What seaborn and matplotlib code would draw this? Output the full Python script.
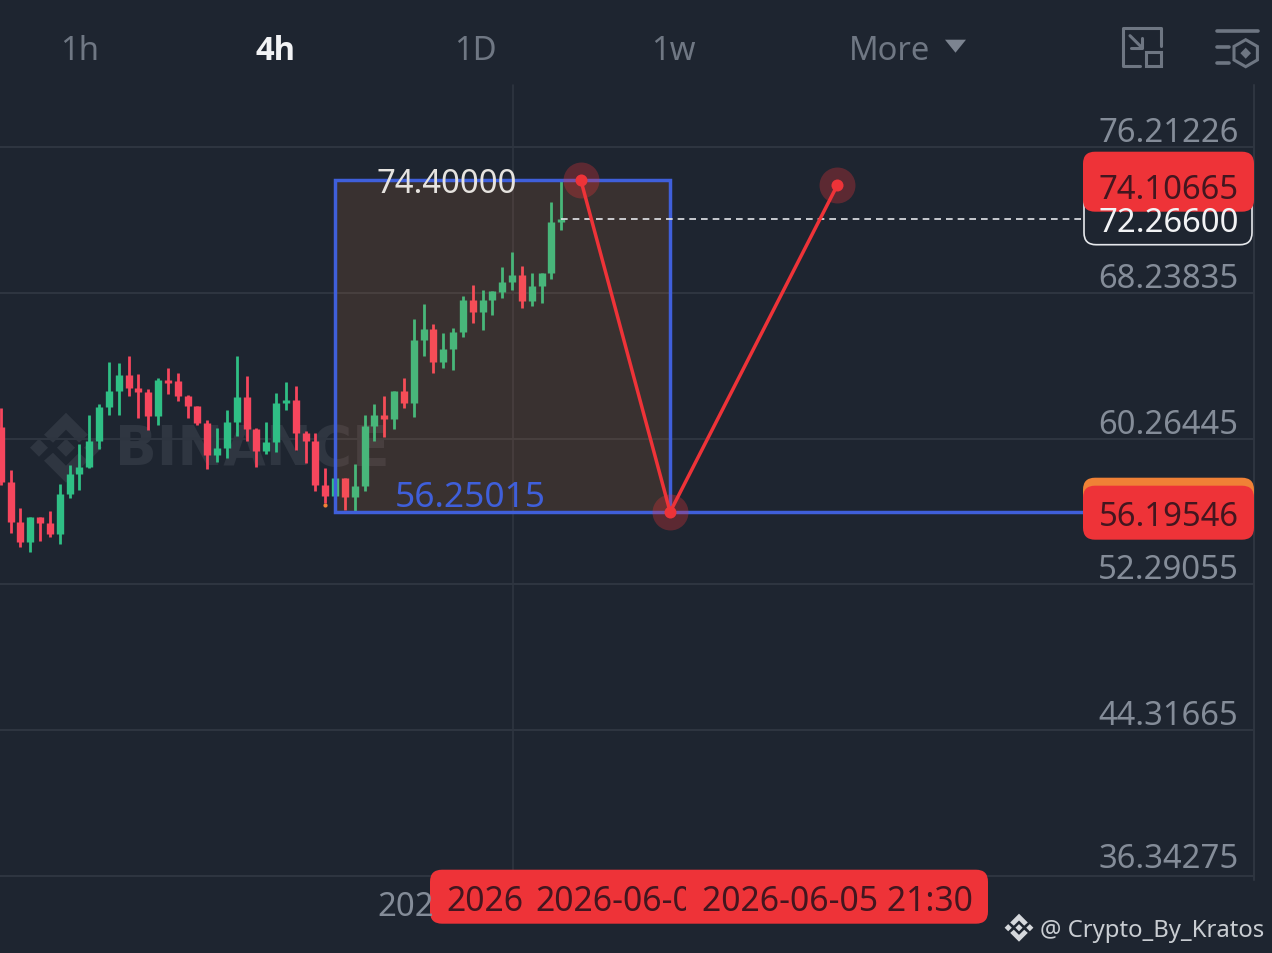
import matplotlib
matplotlib.use("Agg")
import matplotlib.pyplot as plt
from matplotlib.patches import FancyBboxPatch, Polygon, Rectangle
import numpy as np
import pandas as pd
import seaborn as sns

# candles (prices)
opens = [60.88, 57.91, 55.69, 54.63, 55.98, 55.63, 55.03, 57.22, 58.31, 58.69,
         60.15, 62.01, 62.89, 63.72, 63.01, 62.80, 61.50, 63.47, 63.41, 62.59,
         62.05, 61.14, 59.37, 59.77, 61.17, 62.52, 60.81, 59.59, 60.10, 62.19,
         62.36, 60.55, 60.13, 57.73, 57.12, 58.09, 57.09, 57.69, 60.95, 61.56,
         61.32, 62.87, 62.23, 65.66, 66.26, 64.44, 65.15, 66.08, 67.86, 67.17,
         67.83, 68.30, 68.81, 69.21, 67.81, 68.63, 69.30, 72.09]
highs = [61.96, 58.55, 56.45, 55.99, 55.98, 56.32, 57.76, 58.82, 59.97, 61.54,
         62.16, 64.47, 64.38, 64.80, 63.82, 62.96, 63.60, 64.11, 63.85, 62.67,
         62.05, 61.28, 60.83, 61.85, 64.78, 63.67, 60.86, 61.17, 62.78, 63.36,
         63.14, 60.70, 60.59, 58.64, 58.09, 58.09, 58.86, 61.56, 62.14, 62.59,
         62.87, 63.60, 66.81, 67.61, 66.51, 66.04, 66.33, 68.08, 68.66, 68.37,
         68.32, 69.67, 70.45, 69.70, 69.32, 69.32, 73.22, 74.35]
lows = [57.73, 55.08, 54.35, 54.04, 54.68, 54.90, 54.48, 57.03, 57.45, 58.67,
        59.68, 61.57, 61.57, 62.61, 61.39, 60.75, 60.99, 62.70, 62.34, 61.39,
        61.01, 58.58, 59.00, 59.19, 60.41, 60.15, 58.69, 59.40, 59.55, 61.83,
        59.64, 58.91, 57.42, 56.76, 57.12, 56.36, 56.30, 57.42, 60.15, 60.37,
        60.81, 61.92, 61.43, 64.80, 63.87, 64.11, 64.00, 65.84, 66.60, 66.20,
        67.02, 67.97, 68.39, 67.43, 67.52, 67.70, 69.01, 71.67]
closes = [57.91, 55.69, 54.63, 55.98, 55.63, 55.03, 57.22, 58.31, 58.73, 60.15,
          62.01, 62.89, 63.72, 63.01, 62.80, 61.50, 63.47, 63.29, 62.59, 62.05,
          61.14, 59.37, 59.77, 61.17, 62.52, 60.81, 59.59, 60.10, 62.19, 62.36,
          60.55, 60.13, 57.73, 57.12, 58.09, 57.09, 57.69, 60.95, 61.56, 61.34,
          62.87, 62.19, 65.66, 66.26, 64.44, 65.15, 66.08, 67.86, 67.17, 67.83,
          68.32, 68.81, 69.21, 67.81, 68.61, 69.32, 72.09, 72.26]

grid_prices = [76.21226, 68.23835, 60.26445, 52.29055, 44.31665, 36.34275]
tabs = ["1h", "4h", "1D", "1w", "More"]

box_top = 74.40000
box_bottom = 56.25015
last_price = 72.26600
target_price = 74.10665
stop_price = 56.19546

# drawn path, as (candle number, price)
path_x = [59.0, 68.08, 85.07]
path_y = [74.40, 56.25, 74.10665]
box_x = [34.0, 68.08]
liq_x, liq_y = [33], [56.63]

BG = "#1E2530"
GRID = "#2E3540"
GREEN = "#2FBF85"
RED = "#F6465D"
MARK = "#EE3338"
BLUE = "#3F5FDA"
ORANGE = "#F08136"
GREY = "#848C98"
DARK = "#43161F"
FS = 23.6

sns.set_theme(style="dark", rc={"axes.facecolor": BG, "figure.facecolor": BG})
plt.rcParams["font.family"] = ["Noto Sans", "DejaVu Sans"]

df = pd.DataFrame({"n": np.arange(len(opens)), "o": opens, "h": highs, "l": lows, "c": closes})
df["col"] = np.where(df.c >= df.o, "up", "down")


def long_form(frame, a, b):
    return frame.melt(id_vars=["n", "col"], value_vars=[a, b], value_name="price")


fig = plt.figure(figsize=(12.72, 9.54), dpi=100)

# pixel layers for the app chrome: one behind the chart, one in front
back = fig.add_axes([0, 0, 1, 1], zorder=0)
front = fig.add_axes([0, 0, 1, 1], zorder=2)
for a in (back, front):
    a.set_xlim(0, 1272)
    a.set_ylim(953.3, -0.7)
    a.axis("off")

ax = fig.add_axes([0, 0, 1, 1], zorder=1)
ax.patch.set_alpha(0)

# grid
for p in grid_prices:
    ax.axhline(p, xmin=0, xmax=1254 / 1272, color=GRID, lw=1.5, zorder=1)

# candles
palette = {"up": GREEN, "down": RED}
sns.lineplot(data=long_form(df, "l", "h"), x="n", y="price", units="n", hue="col", palette=palette,
             estimator=None, lw=2.0, legend=False, ax=ax, zorder=3, solid_capstyle="butt")
sns.lineplot(data=long_form(df, "o", "c"), x="n", y="price", units="n", hue="col", palette=palette,
             estimator=None, lw=5.3, legend=False, ax=ax, zorder=4, solid_capstyle="butt")
sns.scatterplot(x=liq_x, y=liq_y, color=ORANGE, s=9, linewidth=0, ax=ax, zorder=4)

# position box, tint goes over the candles
ax.add_patch(Rectangle((box_x[0], box_bottom), box_x[1] - box_x[0], box_top - box_bottom,
                       facecolor=ORANGE, alpha=0.133, edgecolor="none", zorder=5))
ax.add_patch(Rectangle((box_x[0], box_bottom), box_x[1] - box_x[0], box_top - box_bottom,
                       fill=False, edgecolor=BLUE, lw=2.5, zorder=6))
ax.plot([box_x[1], 110.2], [box_bottom, box_bottom], color=BLUE, lw=2.5, zorder=6)

# last price line
ax.plot([57, 110.2], [last_price, last_price], color="#E4E6EA", lw=1.2, ls=(0, (4, 3)), zorder=6)

# drawn path
sns.lineplot(x=path_x, y=path_y, color=MARK, lw=2.5, sort=False, estimator=None, ax=ax, zorder=7)
sns.scatterplot(x=path_x, y=path_y, color=MARK, s=670, alpha=0.3, linewidth=0, ax=ax, zorder=7)
sns.scatterplot(x=path_x, y=path_y, color=MARK, s=75, linewidth=0, ax=ax, zorder=8)

ax.set_xlim(-0.08, 129.3)
ax.set_ylim(32.135, 84.305)
ax.set_xlabel("")
ax.set_ylabel("")
ax.set_xticks([])
ax.set_yticks([])
ax.grid(False)
sns.despine(ax=ax, left=True, bottom=True)

# axis lines
back.plot([513, 513], [85, 872], color=GRID, lw=1.2)
back.plot([1254, 1254], [85, 880], color=GRID, lw=1.5)


def binance_logo(a, cx, cy, k, color):
    # k = half height of the logo
    s = k / 35
    d = 9 * s
    for dx in (0, -27 * s, 27 * s):
        a.add_patch(Polygon([(cx + dx, cy - d), (cx + dx + d, cy), (cx + dx, cy + d), (cx + dx - d, cy)],
                            facecolor=color, edgecolor="none"))
    for sign in (1, -1):
        chevron = [(cx, cy - sign * 35 * s), (cx + 22 * s, cy - sign * 13 * s), (cx + 13 * s, cy - sign * 5 * s),
                   (cx, cy - sign * 18 * s), (cx - 13 * s, cy - sign * 5 * s), (cx - 22 * s, cy - sign * 13 * s)]
        a.add_patch(Polygon(chevron, facecolor=color, edgecolor="none"))


# watermark
WM = "#2F3641"
binance_logo(back, 66, 448, 35, WM)
back.text(115, 449, "BINANCE", color=WM, fontsize=39.6, family="DejaVu Sans", fontweight="bold",
          va="center", ha="left")

# tabs
tab_x = [80, 276, 475, 673, 890]
for t, x in zip(tabs, tab_x):
    if t == "4h":
        front.text(x, 51, t, ha="center", va="center", fontsize=FS, color="#F2F3F5",
                   family="Open Sans", fontweight="bold")
    else:
        front.text(x, 51, t, ha="center", va="center", fontsize=FS, color="#6F7783")
front.add_patch(Polygon([(945, 40), (966, 40), (955.5, 53)], facecolor="#7C8490", edgecolor="none"))

# top right icons
ICON = "#6E7682"
front.plot([1161, 1161, 1123, 1123, 1140], [46, 28, 28, 66, 66], color=ICON, lw=2.2, solid_joinstyle="round")
front.add_patch(Rectangle((1146, 52), 15, 14, fill=False, edgecolor=ICON, lw=2.2))
front.plot([1130, 1142], [36, 48], color=ICON, lw=2.2)
front.plot([1142, 1142, 1131], [38, 48, 48], color=ICON, lw=2.2)
front.plot([1217, 1258], [31, 31], color=ICON, lw=2.6)
front.plot([1217, 1229], [47, 47], color=ICON, lw=2.6)
front.plot([1217, 1229], [63, 63], color=ICON, lw=2.6)
ang = np.deg2rad(np.arange(30, 390, 60))
front.add_patch(Polygon(np.c_[1245.7 + 13.5 * np.cos(ang), 53.5 + 13.5 * np.sin(ang)], fill=False, edgecolor=ICON, lw=2.2))
front.add_patch(Polygon([(1245.7, 48), (1251, 53.5), (1245.7, 59), (1240.4, 53.5)], facecolor=ICON, edgecolor="none"))

# labels on the position box
front.text(377, 184, "74.40000", color="#E6E3DF", fontsize=FS, va="center", ha="left")
front.text(395, 497, "56.25015", color=BLUE, fontsize=25.4, va="center", ha="left")

# price scale labels
for p, y in zip(grid_prices, [133, 279, 425, 570, 716, 859]):
    front.text(1238.5, y, f"{p:.5f}", ha="right", va="center", fontsize=FS, color=GREY)


def tag(x0, y0, x1, y1, color, edge="none", r=12, lw=0):
    front.add_patch(FancyBboxPatch((x0, y0), x1 - x0, y1 - y0, boxstyle=f"round,pad=0,rounding_size={r}",
                                   facecolor=color, edgecolor=edge, lw=lw))


# last price tag under the target tag
tag(1084, 170, 1252, 245, BG, edge="#E6E8EC", lw=1.2)
front.text(1238.5, 223, f"{last_price:.5f}", ha="right", va="center", fontsize=FS, color="#F2F3F5")
tag(1083, 152, 1254, 212, MARK)
front.text(1238.5, 190, f"{target_price:.5f}", ha="right", va="center", fontsize=FS, color=DARK)

tag(1083, 478, 1254, 530, ORANGE)
tag(1083, 486, 1254, 540, MARK)
front.text(1238.5, 517, f"{stop_price:.5f}", ha="right", va="center", fontsize=FS, color=DARK)

# time labels
front.text(377, 907, "202", ha="left", va="center", fontsize=FS, color=GREY)
tag(430, 870, 988, 924, MARK)
front.text(446, 901, "2026", ha="left", va="center", fontsize=24.3, color=DARK)
clipped = front.text(535, 901, "2026-06-05", ha="left", va="center", fontsize=24.3, color=DARK)
clipped.set_clip_path(Rectangle((430, 870), 256, 54, transform=front.transData))
clipped.set_clip_on(True)
front.text(702, 901, "2026-06-05 21:30", ha="left", va="center", fontsize=24.3, color=DARK)

# author tag
binance_logo(front, 1019, 928, 14, "#D5D8DC")
front.text(1040, 930, "@ Crypto_By_Kratos", ha="left", va="center", fontsize=17.2, color="#C9CDD2")

fig.savefig("out.png", dpi=100, facecolor=BG)
